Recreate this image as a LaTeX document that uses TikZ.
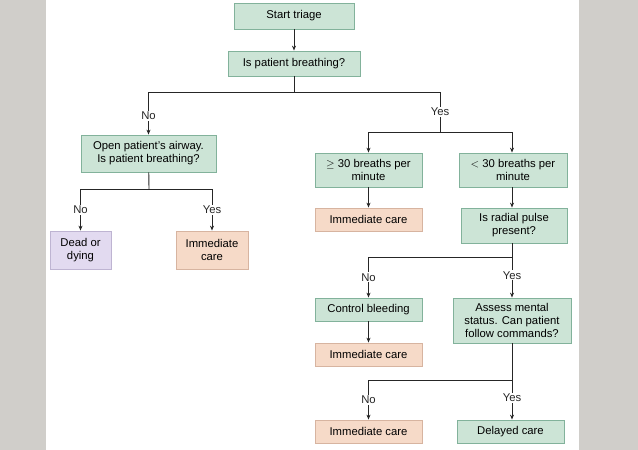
\documentclass[tikz,border=0pt]{standalone}
\usepackage{fontspec}
\setmainfont{Liberation Sans}
\usetikzlibrary{arrows.meta}
\definecolor{gfill}{RGB}{204,228,214}
\definecolor{gdraw}{RGB}{130,178,155}
\definecolor{ofill}{RGB}{246,218,200}
\definecolor{odraw}{RGB}{215,180,160}
\definecolor{pfill}{RGB}{226,218,240}
\definecolor{pdraw}{RGB}{190,180,210}
\definecolor{side}{RGB}{208,206,202}
\begin{document}
\begin{tikzpicture}[x=1pt,y=-1pt,
  box/.style={draw=gdraw,fill=gfill,line width=0.8pt,align=center,inner sep=0pt,font=\fontsize{11.3}{13}\selectfont},
  gb/.style={box},
  ob/.style={box,draw=odraw,fill=ofill},
  pb/.style={box,draw=pdraw,fill=pfill},
  lab/.style={fill=white,inner sep=1pt,font=\fontsize{11.3}{13}\selectfont},
  ln/.style={line width=0.9pt,black!85},
  ar/.style={ln,-{Stealth[length=5pt,width=4pt]}}]
\useasboundingbox (0,0) rectangle (638,450);
\fill[side] (0,0) rectangle (46,450);
\fill[side] (579,0) rectangle (638,450);
\node[gb,minimum width=120,minimum height=26] (start) at (294,16) {Start triage};
\node[gb,minimum width=132,minimum height=25] (breath) at (294,63.5) {Is patient breathing?};
\node[gb,minimum width=135,minimum height=37] (open) at (148.5,153.5) {Open patient's airway.\\Is patient breathing?};
\node[pb,minimum width=61,minimum height=38] (dead) at (80.5,250) {Dead or\\dying};
\node[ob,minimum width=72,minimum height=38] (imm1) at (212,250) {Immediate\\care};
\node[gb,minimum width=107,minimum height=34] (ge) at (368.5,170) {$\geq$ 30 breaths per\\minute};
\node[gb,minimum width=108,minimum height=34] (lt) at (513,170) {$<$ 30 breaths per\\minute};
\node[ob,minimum width=107,minimum height=23] (imm2) at (368.5,219.5) {Immediate care};
\node[gb,minimum width=106,minimum height=35] (radial) at (514,225.5) {Is radial pulse\\present?};
\node[gb,minimum width=107,minimum height=23] (bleed) at (368.5,309.5) {Control bleeding};
\node[gb,minimum width=118,minimum height=45] (assess) at (512,320.5) {Assess mental\\status. Can patient\\follow commands?};
\node[ob,minimum width=107,minimum height=23] (imm3) at (368.5,354.5) {Immediate care};
\node[ob,minimum width=107,minimum height=23] (imm4) at (368.5,431.5) {Immediate care};
\node[gb,minimum width=107,minimum height=23] (delayed) at (510.5,431.5) {Delayed care};
\coordinate (j1) at (294,92);
\coordinate (j2) at (149,189);
\coordinate (j3) at (440,132);
\coordinate (j4) at (512,257);
\coordinate (j5) at (512,380);
\draw[ar] (start) -- (breath);
\draw[ln] (breath) -- (j1);
\draw[ar] (j1) -| node[lab,pos=0.78]{No} (open);
\draw[ln] (j1) -| node[lab,pos=0.75]{Yes} (j3);
\draw[ln] (open) -- (j2);
\draw[ar] (j2) -| node[lab,pos=0.75]{No} (dead.north);
\draw[ar] (j2) -| node[lab,pos=0.75]{Yes} (imm1.north);
\draw[ar] (j3) -| (ge);
\draw[ar] (j3) -| (lt.north -| j4);
\draw[ar] (ge) -- (imm2);
\draw[ar] (lt.south -| j4) -- (radial.north -| j4);
\draw[ln] (radial.south -| j4) -- (j4);
\draw[ar] (j4) -| node[lab,pos=0.75]{No} (bleed);
\draw[ar] (j4) -- node[lab,pos=0.45]{Yes} (assess.north -| j4);
\draw[ar] (bleed) -- (imm3);
\draw[ln] (assess.south -| j5) -- (j5);
\draw[ar] (j5) -| node[lab,pos=0.75]{No} (imm4);
\draw[ar] (j5) -- node[lab,pos=0.45]{Yes} (delayed.north -| j5);
\end{tikzpicture}
\end{document}
